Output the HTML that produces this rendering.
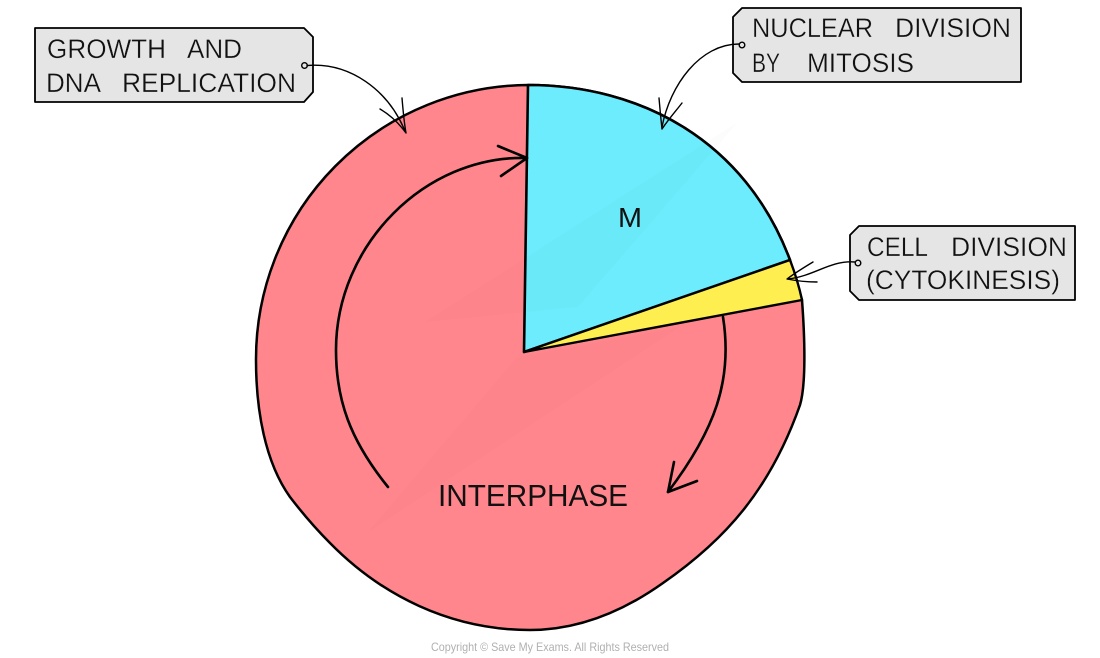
<!DOCTYPE html>
<html>
<head>
<meta charset="utf-8">
<style>
html,body{margin:0;padding:0;background:#fff;}
svg{display:block;}
text{font-family:"Liberation Sans",sans-serif;fill:#111;}
.l{font-size:27px;stroke:#e5e5e5;stroke-width:.3px;}
</style>
</head>
<body>
<svg width="1100" height="658" viewBox="0 0 1100 658" xmlns="http://www.w3.org/2000/svg">
<!-- blob -->
<path fill="#ff868c" stroke="#000" stroke-width="2.5" stroke-linejoin="round" d="M528,85 A274,274 0 0 0 256,360 C256,410 265,462 290,497 C303,514 316,529 330,543 C381,595 450,630 530,630 C580,630 625,610 663,583 C725,540 770,490 800,405 C806,385 805,340 802,300 L790,260 C745,140 640,85 528,85 Z"/>
<!-- cyan -->
<path fill="#6cecfc" stroke="#000" stroke-width="2.6" stroke-linejoin="round" d="M528,85 C640,85 745,140 790,260 L524,352 Z"/>
<!-- yellow -->
<path fill="#ffee50" stroke="#000" stroke-width="2.4" stroke-linejoin="round" d="M790,260 C795,273 799,286 802,300 L524,352 Z"/>
<!-- watermark -->
<polygon points="738,122 425,322 578,307" fill="#000" opacity=".012"/>
<polygon points="367,533 517,357 680,327" fill="#000" opacity=".008"/>
<!-- inner arrows -->
<g fill="none" stroke="#000" stroke-width="2.6" stroke-linecap="round" stroke-linejoin="round">
<path d="M388,487 C350,440 336,400 336,350 C336,245 425,155 527,158"/>
<path d="M498,146 L527,158 L501,176"/>
<path d="M723,317 C733,380 715,430 668,492"/>
<path d="M674,462 L668,492 L697,481"/>
</g>
<!-- boxes -->
<g fill="#e5e5e5" stroke="#000" stroke-width="1.8" stroke-linejoin="round">
<polygon points="35,28 304,28 313,37 313,92 304,102 35,102"/>
<polygon points="742,8 1021,8 1021,82 742,82 733,73 733,17"/>
<polygon points="859,226 1075,226 1075,300 859,300 850,291 850,235"/>
</g>
<!-- connectors -->
<g fill="none" stroke="#000" stroke-width="1.4" stroke-linecap="round" stroke-linejoin="round">
<circle cx="304.5" cy="65.5" r="2.8"/>
<path d="M307,65.5 C350,62 388,90 405,131"/>
<path d="M380,109 C390,115 398,122 406,133 C404,122 403,110 402,98"/>
<circle cx="742" cy="45" r="2.8"/>
<path d="M739,44 C700,44 670,85 662,127"/>
<path d="M659,98 C660,110 661,120 662,129 C668,120 675,112 682,103"/>
<circle cx="858" cy="263" r="2.8"/>
<path d="M855,262 C830,260 815,276 788,279"/>
<path d="M813,262 C803,268 795,273 787,279 C797,281 807,282 817,282"/>
</g>
<!-- labels -->
<g class="l">
<text x="47" y="58" textLength="119" lengthAdjust="spacingAndGlyphs">GROWTH</text>
<text x="187" y="58" textLength="55" lengthAdjust="spacingAndGlyphs">AND</text>
<text x="46" y="92" textLength="55" lengthAdjust="spacingAndGlyphs">DNA</text>
<text x="122" y="92" textLength="174" lengthAdjust="spacingAndGlyphs">REPLICATION</text>
<text x="752" y="37" textLength="121" lengthAdjust="spacingAndGlyphs">NUCLEAR</text>
<text x="895" y="37" textLength="116" lengthAdjust="spacingAndGlyphs">DIVISION</text>
<text x="752" y="72" textLength="28" lengthAdjust="spacingAndGlyphs">BY</text>
<text x="807" y="72" textLength="107" lengthAdjust="spacingAndGlyphs">MITOSIS</text>
<text x="867" y="256" textLength="61" lengthAdjust="spacingAndGlyphs">CELL</text>
<text x="951" y="256" textLength="116" lengthAdjust="spacingAndGlyphs">DIVISION</text>
<text x="866" y="289" textLength="194" lengthAdjust="spacingAndGlyphs">(CYTOKINESIS)</text>
</g>
<text x="618" y="227" font-size="28" textLength="24" lengthAdjust="spacingAndGlyphs">M</text>
<text x="438" y="506" font-size="31" textLength="190" lengthAdjust="spacingAndGlyphs">INTERPHASE</text>
<text x="431" y="651" font-size="12" textLength="238" lengthAdjust="spacingAndGlyphs" style="fill:#b0b0b0">Copyright © Save My Exams. All Rights Reserved</text>
</svg>
</body>
</html>
